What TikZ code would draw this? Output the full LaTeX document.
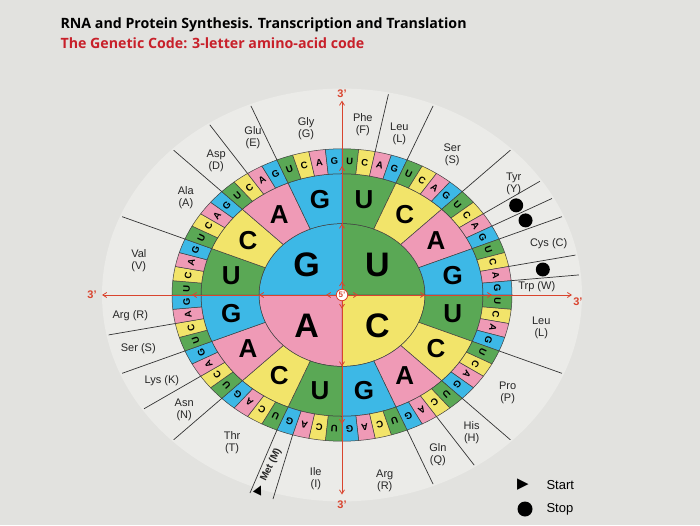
\documentclass[tikz,border=0pt]{standalone}
\usepackage{fontspec}
\setmainfont{Liberation Sans}
\newfontfamily\titlef{Open Sans}
\newfontfamily\symf{DejaVu Sans}
\usetikzlibrary{arrows.meta}
\definecolor{c0}{HTML}{5AA855}
\definecolor{c1}{HTML}{F2E46A}
\definecolor{c2}{HTML}{EF9AB6}
\definecolor{c3}{HTML}{3DB8E6}
\definecolor{bgc}{HTML}{E2E2DF}
\definecolor{faint}{HTML}{EBEBE8}
\definecolor{axred}{HTML}{D9442E}
\definecolor{titred}{HTML}{C8202A}
\tikzset{
  seg/.style={draw=black!75,line width=0.5pt},
  sepline/.style={draw=black!80,line width=0.7pt},
  axis/.style={draw=axred,line width=0.8pt,-{Straight Barb[length=4pt,width=5pt]}},
  aa/.style={font=\fontsize{11}{12}\selectfont,align=center,text=black!85},
  big/.style={font=\bfseries\fontsize{34}{34}\selectfont},
  mid/.style={font=\bfseries\fontsize{26}{26}\selectfont},
  small/.style={font=\bfseries\fontsize{9.5}{9.5}\selectfont,inner sep=0pt},
  three/.style={text=axred,font=\bfseries\fontsize{11}{11}\selectfont},
}
\newcommand\baseL[1]{\ifcase#1 U\or C\or A\or G\fi}
\begin{document}
\begin{tikzpicture}[x=1pt,y=1pt]
\fill[bgc] (0,0) rectangle (700,525);
\useasboundingbox (0,0) rectangle (700,525);
\node[anchor=west,font=\titlef\bfseries\fontsize{14.2}{15}\selectfont] (t1) at (57,500) {RNA and Protein Synthesis. Transcription and Translation};
\node[anchor=west,font=\titlef\bfseries\fontsize{14.2}{15}\selectfont,text=titred] (t2) at (57,482) {The Genetic Code: 3-letter amino-acid code};
\begin{scope}[shift={(342,230)},yscale=0.86]
  \fill[faint] (0,0) circle (240);
  \foreach \q in {0,...,3}{
    \pgfmathsetmacro\a{90-\q*90}
    \pgfmathsetmacro\b{\a-90}
    \pgfmathsetmacro\c{\a-45}
    \filldraw[seg,fill=c\q] (0,0) -- (\a:83) arc[start angle=\a,end angle=\b,radius=83] -- cycle;
    \node[big] (in\q) at (\c:50) {\baseL{\q}};
  }
  \foreach \k in {0,...,15}{
    \pgfmathsetmacro\a{90-\k*22.5}
    \pgfmathsetmacro\b{\a-22.5}
    \pgfmathsetmacro\c{\a-11.25}
    \pgfmathtruncatemacro\m{mod(\k,4)}
    \filldraw[seg,fill=c\m] (\a:83) arc[start angle=\a,end angle=\b,radius=83] -- (\b:141) arc[start angle=\b,end angle=\a,radius=141] -- cycle;
    \node[mid] (sd\k) at (\c:113) {\baseL{\m}};
  }
  \foreach \k in {0,...,63}{
    \pgfmathsetmacro\a{90-\k*5.625}
    \pgfmathsetmacro\b{\a-5.625}
    \pgfmathsetmacro\c{\a-2.8125}
    \pgfmathsetmacro\r{\c-90}
    \pgfmathtruncatemacro\m{mod(\k,4)}
    \filldraw[seg,fill=c\m] (\a:141) arc[start angle=\a,end angle=\b,radius=141] -- (\b:170) arc[start angle=\b,end angle=\a,radius=170] -- cycle;
    \node[small,rotate=\r] (th\k) at (\c:155.5) {\baseL{\m}};
  }
  \foreach \ang in {157.5,135,123.75,112.5,78.75,67.5,45,33.75,28.125,22.5,11.25,5.625,-22.5,-45,-56.25,-67.5,-135,-146.25,-157.5,-168.75}{
    \draw[sepline] (\ang:170) -- (\ang:238);
  }
  \coordinate (ma) at (-106.875:170);
  \coordinate (mb) at (-112.5:170);
  \foreach \ang/\R in {90/226,270/232,0/230,180/240}{
    \foreach \rr in {16,83,150}{\draw[axis] (0,0) -- (\ang:\rr);}
    \draw[axis] (0,0) -- (\ang:\R);
  }
  \node[circle,draw=axred,fill=white,inner sep=1pt,line width=0.8pt,text=axred,font=\bfseries\fontsize{8}{8}\selectfont] (five) at (0,0) {5'};
  \node[three] (n3) at (90:234) {3'};
  \node[three] (s3) at (270:244) {3'};
  \node[three] (w3) at (180:250) {3'};
  \node[three] (e3) at (-2:236) {3'};
  \foreach \ang/\R/\t [count=\i] in {100.5/197/{Gly\\(G)},84/199/{Phe\\(F)},73/196/{Leu\\(L)},56/197/{Ser\\(S)},37/215/{Tyr\\(Y)},16/215/{Cys (C)},2.7/195/{Trp (W)},-11/203/{Leu\\(L)},-34.5/201/{Pro\\(P)},-51/206/{His\\(H)},-62.7/209/{Gln\\(Q)},-78.8/220/{Arg\\(R)},-97/215/{Ile\\(I)},-122.6/204/{Thr\\(T)},-139.7/207/{Asn\\(N)},-151/206/{Lys (K)},-163/213/{Ser (S)},-173.5/213/{Arg (R)},169/207/{Val\\(V)},144/193/{Ala\\(A)},129/200/{Asp\\(D)},116/203/{Glu\\(E)}}{
    \node[aa] (aa\i) at (\ang:\R) {\t};
  }
  \foreach \ang [count=\i] in {30.9,25.3,8.4}{
    \node[circle,fill=black,inner sep=0pt,minimum size=14pt] (stop\i) at (\ang:203) {};
  }
\end{scope}
\coordinate (ma2) at (250,32);
\coordinate (mb2) at (273,26);
\draw[sepline] (mb) -- (ma2);
\draw[sepline] (ma) -- (mb2);
\node[rotate=64,font=\bfseries\fontsize{10}{10}\selectfont,text=black!85,inner sep=1pt] (met) at (271,60) {Met (M)};
\node[rotate=64,font=\symf\fontsize{12}{12}\selectfont,inner sep=0pt] (mtri) at (259,35) {▶};
\node[font=\symf\fontsize{15}{15}\selectfont,inner sep=0pt] (lgs) at (523,40) {▶};
\node[anchor=west,font=\fontsize{13}{13}\selectfont] (lgst) at (543,40) {Start};
\node[circle,fill=black,inner sep=0pt,minimum size=15pt] (lgp) at (525,16) {};
\node[anchor=west,font=\fontsize{13}{13}\selectfont] (lgpt) at (543,16) {Stop};
\end{tikzpicture}
\end{document}
